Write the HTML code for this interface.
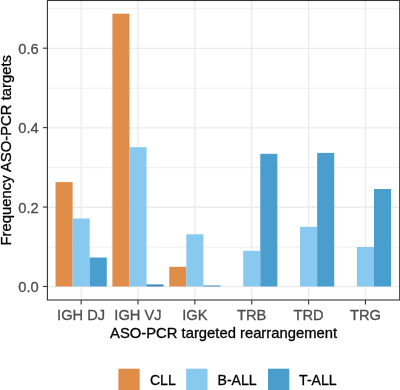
<!DOCTYPE html><html><head><meta charset="utf-8"><style>html,body{margin:0;padding:0;background:#fff;width:400px;height:390px;overflow:hidden}svg{display:block}text{font-family:"Liberation Sans",sans-serif;stroke-width:0.3px}svg{will-change:transform}</style></head><body>
<svg width="400" height="390" viewBox="0 0 400 390">
<rect x="0" y="0" width="400" height="390" fill="#fff"/>
<line x1="47.4" x2="399.7" y1="247.08" y2="247.08" stroke="#EBEBEB" stroke-width="0.8"/>
<line x1="47.4" x2="399.7" y1="167.64" y2="167.64" stroke="#EBEBEB" stroke-width="0.8"/>
<line x1="47.4" x2="399.7" y1="88.20" y2="88.20" stroke="#EBEBEB" stroke-width="0.8"/>
<line x1="47.4" x2="399.7" y1="8.76" y2="8.76" stroke="#EBEBEB" stroke-width="0.8"/>
<line x1="47.4" x2="399.7" y1="286.70" y2="286.70" stroke="#EBEBEB" stroke-width="1.3"/>
<line x1="47.4" x2="399.7" y1="207.26" y2="207.26" stroke="#EBEBEB" stroke-width="1.3"/>
<line x1="47.4" x2="399.7" y1="127.82" y2="127.82" stroke="#EBEBEB" stroke-width="1.3"/>
<line x1="47.4" x2="399.7" y1="48.38" y2="48.38" stroke="#EBEBEB" stroke-width="1.3"/>
<line x1="81.15" x2="81.15" y1="0.5" y2="300.0" stroke="#EBEBEB" stroke-width="1.3"/>
<line x1="138.01" x2="138.01" y1="0.5" y2="300.0" stroke="#EBEBEB" stroke-width="1.3"/>
<line x1="194.87" x2="194.87" y1="0.5" y2="300.0" stroke="#EBEBEB" stroke-width="1.3"/>
<line x1="251.73" x2="251.73" y1="0.5" y2="300.0" stroke="#EBEBEB" stroke-width="1.3"/>
<line x1="308.59" x2="308.59" y1="0.5" y2="300.0" stroke="#EBEBEB" stroke-width="1.3"/>
<line x1="365.45" x2="365.45" y1="0.5" y2="300.0" stroke="#EBEBEB" stroke-width="1.3"/>
<rect x="55.53" y="182.10" width="17.08" height="104.40" fill="#E08D4A"/>
<rect x="72.61" y="218.50" width="17.08" height="68.00" fill="#88C9EF"/>
<rect x="89.69" y="257.50" width="17.08" height="29.00" fill="#4A9ECE"/>
<rect x="112.39" y="13.66" width="17.08" height="272.84" fill="#E08D4A"/>
<rect x="129.47" y="147.15" width="17.08" height="139.35" fill="#88C9EF"/>
<rect x="146.55" y="284.45" width="17.08" height="2.05" fill="#3F86B8"/>
<rect x="169.25" y="266.80" width="17.08" height="19.70" fill="#E08D4A"/>
<rect x="186.33" y="234.30" width="17.08" height="52.20" fill="#88C9EF"/>
<rect x="203.41" y="285.50" width="17.08" height="1.00" fill="#3F86B8"/>
<rect x="243.19" y="250.80" width="17.08" height="35.70" fill="#88C9EF"/>
<rect x="260.27" y="153.80" width="17.08" height="132.70" fill="#4A9ECE"/>
<rect x="300.05" y="226.80" width="17.08" height="59.70" fill="#88C9EF"/>
<rect x="317.13" y="152.90" width="17.08" height="133.60" fill="#4A9ECE"/>
<rect x="356.91" y="247.00" width="17.08" height="39.50" fill="#88C9EF"/>
<rect x="373.99" y="189.00" width="17.08" height="97.50" fill="#4A9ECE"/>
<rect x="47.4" y="0.5" width="352.30" height="299.50" fill="none" stroke="#333333" stroke-width="1.1"/>
<line x1="42.90" x2="47.4" y1="286.50" y2="286.50" stroke="#333333" stroke-width="1.1"/>
<text x="38.7" y="292.10" font-size="14.7" fill="#4D4D4D" stroke="#4D4D4D" text-anchor="end">0.0</text>
<line x1="42.90" x2="47.4" y1="207.06" y2="207.06" stroke="#333333" stroke-width="1.1"/>
<text x="38.7" y="212.66" font-size="14.7" fill="#4D4D4D" stroke="#4D4D4D" text-anchor="end">0.2</text>
<line x1="42.90" x2="47.4" y1="127.62" y2="127.62" stroke="#333333" stroke-width="1.1"/>
<text x="38.7" y="133.22" font-size="14.7" fill="#4D4D4D" stroke="#4D4D4D" text-anchor="end">0.4</text>
<line x1="42.90" x2="47.4" y1="48.18" y2="48.18" stroke="#333333" stroke-width="1.1"/>
<text x="38.7" y="53.78" font-size="14.7" fill="#4D4D4D" stroke="#4D4D4D" text-anchor="end">0.6</text>
<line x1="81.15" x2="81.15" y1="300.0" y2="304.50" stroke="#333333" stroke-width="1.1"/>
<text x="81.15" y="319.6" font-size="14.7" fill="#4D4D4D" stroke="#4D4D4D" text-anchor="middle">IGH DJ</text>
<line x1="138.01" x2="138.01" y1="300.0" y2="304.50" stroke="#333333" stroke-width="1.1"/>
<text x="138.01" y="319.6" font-size="14.7" fill="#4D4D4D" stroke="#4D4D4D" text-anchor="middle">IGH VJ</text>
<line x1="194.87" x2="194.87" y1="300.0" y2="304.50" stroke="#333333" stroke-width="1.1"/>
<text x="194.87" y="319.6" font-size="14.7" fill="#4D4D4D" stroke="#4D4D4D" text-anchor="middle">IGK</text>
<line x1="251.73" x2="251.73" y1="300.0" y2="304.50" stroke="#333333" stroke-width="1.1"/>
<text x="251.73" y="319.6" font-size="14.7" fill="#4D4D4D" stroke="#4D4D4D" text-anchor="middle">TRB</text>
<line x1="308.59" x2="308.59" y1="300.0" y2="304.50" stroke="#333333" stroke-width="1.1"/>
<text x="308.59" y="319.6" font-size="14.7" fill="#4D4D4D" stroke="#4D4D4D" text-anchor="middle">TRD</text>
<line x1="365.45" x2="365.45" y1="300.0" y2="304.50" stroke="#333333" stroke-width="1.1"/>
<text x="365.45" y="319.6" font-size="14.7" fill="#4D4D4D" stroke="#4D4D4D" text-anchor="middle">TRG</text>
<text x="223.55" y="337.8" font-size="14.8" fill="#000" stroke="#000" text-anchor="middle">ASO-PCR targeted rearrangement</text>
<text transform="translate(10.8,150.25) rotate(-90)" x="0" y="0" font-size="14.85" fill="#000" stroke="#000" text-anchor="middle">Frequency ASO-PCR targets</text>
<rect x="118.4" y="368.7" width="21.3" height="21.3" fill="#E08D4A"/>
<text x="149.9" y="384.7" font-size="14.1" fill="#000" stroke="#000" stroke-width="0.05">CLL</text>
<rect x="186.2" y="368.7" width="21.3" height="21.3" fill="#88C9EF"/>
<text x="217.5" y="384.7" font-size="14.1" fill="#000" stroke="#000" stroke-width="0.05">B-ALL</text>
<rect x="268.0" y="368.7" width="21.3" height="21.3" fill="#4A9ECE"/>
<text x="299.1" y="384.7" font-size="14.1" fill="#000" stroke="#000" stroke-width="0.05">T-ALL</text>
</svg></body></html>
